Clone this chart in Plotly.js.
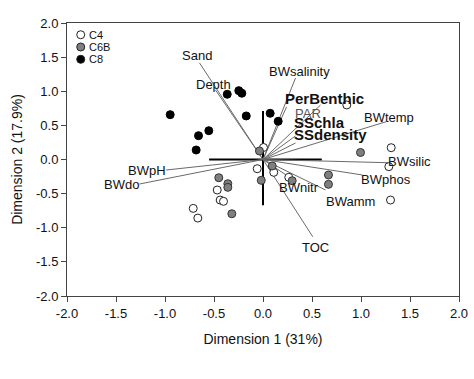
<!DOCTYPE html>
<html>
<head>
<meta charset="utf-8">
<script src="https://cdn.plot.ly/plotly-3.0.1.min.js"></script>
<style>html,body{margin:0;padding:0;background:#fff;}#chart{width:474px;height:379px;}</style>
</head>
<body>
<div id="chart"></div>
<script>
// ---- data ----
var c4X = [0.005, -0.059, 0.110, -0.467, -0.437, -0.403, -0.712, -0.665, 0.263, 0.855, 1.308, 1.284, 1.301];
var c4Y = [0.176, -0.135, -0.188, -0.447, -0.594, -0.613, -0.716, -0.858, -0.261, 0.799, 0.173, -0.105, -0.594];
var c6bX = [-0.036, -0.451, -0.359, -0.359, -0.318, -0.018, 0.094, 0.298, 0.668, 0.668, 0.995];
var c6bY = [0.125, -0.267, -0.355, -0.408, -0.795, -0.305, -0.095, -0.311, -0.227, -0.364, 0.103];
var c8X = [-0.947, -0.365, -0.247, -0.216, -0.171, 0.073, 0.155, -0.553, -0.658, -0.682];
var c8Y = [0.657, 0.956, 1.009, 0.971, 0.638, 0.677, 0.560, 0.422, 0.349, 0.139];

var vecNames = ["Sand", "Depth", "BWsalinity", "PerBenthic", "PAR", "SSchla", "SSdensity", "BWtemp", "BWsilic", "BWphos", "BWamm", "BWnitr", "TOC", "BWpH", "BWdo"];
var vecX = [-0.648, -0.485, 0.332, 0.240, 0.587, 0.332, 0.332, 1.257, 1.274, 1.015, 0.638, 0.281, 0.508, -0.988, -1.260];
var vecY = [1.415, 1.019, 1.195, 0.770, 0.798, 0.345, 0.242, 0.554, -0.047, -0.227, -0.447, -0.271, -1.132, -0.154, -0.359];

var tickVals = [-2.0, -1.5, -1.0, -0.5, 0.0, 0.5, 1.0, 1.5, 2.0];
var tickText = ["-2.0", "-1.5", "-1.0", "-0.5", "0.0", "0.5", "1.0", "1.5", "2.0"];
var groupNames = ["C4", "C6B", "C8"];

// ---- styles ----
var FONT = "Arial, 'Liberation Sans', sans-serif";
var labelStyle = {
  Sand: {dx: -3, dy: -7}, Depth: {dx: -2, dy: -5}, BWsalinity: {dx: 4, dy: -6},
  PerBenthic: {dx: 38, dy: -8, bold: true}, PAR: {dx: -13, dy: 8, color: "#555"},
  SSchla: {dx: 24, dy: -13, bold: true}, SSdensity: {dx: 35, dy: -8, bold: true},
  BWtemp: {dx: 3, dy: -4}, BWsilic: {dx: 22, dy: -1}, BWphos: {dx: 24, dy: 5},
  BWamm: {dx: 25, dy: 11}, BWnitr: {dx: 8, dy: 9}, TOC: {dx: 3, dy: 11},
  BWpH: {dx: -19, dy: 0}, BWdo: {dx: -18, dy: 0}
};

var lx = [], ly = [];
for (var i = 0; i < vecX.length; i++) { lx.push(0, vecX[i], null); ly.push(0, vecY[i], null); }

var traces = [
  {x: lx, y: ly, mode: "lines", line: {color: "#6a6a6a", width: 1}, hoverinfo: "skip", showlegend: false},
  {x: c4X, y: c4Y, mode: "markers", name: groupNames[0], showlegend: false,
   marker: {size: 8, color: "#ffffff", line: {color: "#222", width: 1}}},
  {x: c6bX, y: c6bY, mode: "markers", name: groupNames[1], showlegend: false,
   marker: {size: 8, color: "#7f7f7f", line: {color: "#333", width: 1}}},
  {x: c8X, y: c8Y, mode: "markers", name: groupNames[2], showlegend: false,
   marker: {size: 8, color: "#000000", line: {color: "#000", width: 1}}}
];

var annotations = vecNames.map(function (n, i) {
  var s = labelStyle[n];
  return {x: vecX[i], y: vecY[i], xref: "x", yref: "y", showarrow: false,
    text: s.bold ? "<b>" + n + "</b>" : n, xanchor: "center", yanchor: "middle",
    xshift: s.dx, yshift: -s.dy,
    font: {family: FONT, size: s.bold ? 15 : 13, color: s.color || "#111"}};
});

// legend (manual, compact like the reference)
var legFill = ["#ffffff", "#7f7f7f", "#000000"];
var legY = [0.957, 0.912, 0.867];
var shapes = [
  {type: "line", xref: "x", yref: "y", x0: -0.55, x1: 0.6, y0: 0, y1: 0, line: {color: "#000", width: 2}, layer: "below"},
  {type: "line", xref: "x", yref: "y", x0: 0, x1: 0, y0: -0.67, y1: 0.71, line: {color: "#000", width: 2}, layer: "below"}
];
groupNames.forEach(function (g, k) {
  shapes.push({type: "circle", xref: "paper", yref: "paper", xsizemode: "pixel", ysizemode: "pixel",
    xanchor: 0.035, yanchor: legY[k], x0: -4, x1: 4, y0: -4, y1: 4,
    fillcolor: legFill[k], line: {color: "#222", width: 1}});
  annotations.push({xref: "paper", yref: "paper", x: 0.052, y: legY[k], xanchor: "left", yanchor: "middle",
    showarrow: false, text: g, font: {family: FONT, size: 11, color: "#111"}});
});

var axisCommon = {
  range: [-2, 2], tickvals: tickVals, ticktext: tickText, ticks: "outside", ticklen: 5,
  tickcolor: "#444", tickwidth: 1, showline: true, mirror: true, linecolor: "#444", linewidth: 1,
  showgrid: false, zeroline: false, tickfont: {family: FONT, size: 13, color: "#111"}
};

var layout = {
  width: 474, height: 379,
  margin: {l: 67, r: 15, t: 23, b: 83},
  paper_bgcolor: "#fff", plot_bgcolor: "#fff",
  showlegend: false,
  xaxis: Object.assign({}, axisCommon, {title: {text: "Dimension 1 (31%)", font: {family: FONT, size: 14, color: "#111"}, standoff: 14}}),
  yaxis: Object.assign({}, axisCommon, {title: {text: "Dimension 2 (17.9%)", font: {family: FONT, size: 14, color: "#111"}, standoff: 10}}),
  annotations: annotations,
  shapes: shapes
};

Plotly.newPlot("chart", traces, layout, {staticPlot: true, displayModeBar: false});
</script>
</body>
</html>
